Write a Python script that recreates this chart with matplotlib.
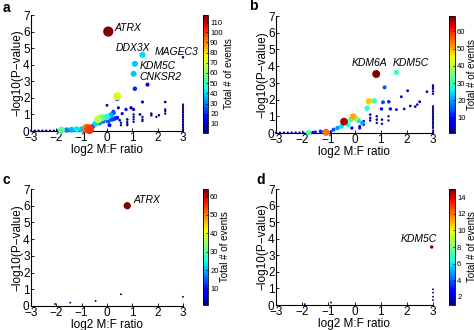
import matplotlib
matplotlib.use("Agg")
import matplotlib.pyplot as plt
import numpy as np

plt.rcParams['font.family'] = ['Liberation Sans', 'DejaVu Sans']

# ---- panel a ----
a_x = [0.05, 1.4, 1.1, 1.05, 3.0,
       1.1, 1.6, 0.4, 0.4, 1.4, 2.3, 0.0,
       0.75, 0.95, 1.05, 0.45, 0.25, 0.6, 1.3, 0.8, 0.5,
       1.75, 1.75, 2.05, 2.3, 2.3, 2.3, 1.95,
       1.05, 1.05, 1.05, 1.05, 0.8, 0.8, 0.8, 0.55, 0.55, 1.4, 1.4, 1.4,
       3.0, 3.0, 3.0, 3.0, 3.0, 3.0, 3.0, 3.0, 3.0, 3.0, 3.0, 3.0, 3.0, 3.0, 3.0, 3.0, 3.0,
       -0.35, -0.2, 0.0, 0.15, 0.25, -0.45, -0.3, -0.15, 0.05, 0.2, 0.3, 0.4, 0.1, -0.55,
       -0.8, -0.7, -1.0, -1.2, -1.4, -1.6, -1.8, -0.6,
       -3.0, -2.85, -2.7, -2.55, -2.4, -2.25, -2.1, -1.95]
a_y = [6.0, 4.6, 4.05, 3.45, 4.45,
       2.55, 2.8, 2.1, 1.95, 1.75, 1.75, 1.55,
       1.3, 1.4, 1.3, 1.4, 1.2, 1.05, 1.0, 0.7, 0.65,
       1.05, 0.95, 0.95, 1.3, 1.2, 1.05, 0.85,
       1.0, 0.85, 0.7, 0.55, 0.55, 0.45, 0.35, 0.5, 0.35, 0.85, 0.7, 0.6,
       1.6, 1.5, 1.4, 1.3, 1.2, 1.1, 1.0, 0.9, 0.8, 0.7, 0.6, 0.5, 0.4, 0.3, 0.2, 0.1, 0.03,
       0.7, 0.8, 0.85, 0.95, 1.1, 0.45, 0.5, 0.6, 0.6, 0.7, 0.75, 0.8, 0.35, 0.3,
       0.16, 0.1, 0.1, 0.1, 0.08, 0.06, 0.05, 0.25,
       0.02, 0.02, 0.02, 0.02, 0.02, 0.02, 0.02, 0.02]
a_n = [117, 40, 38, 38, 4,
       20, 16, 72, 25, 8, 5, 6,
       10, 10, 8, 8, 6, 8, 6, 5, 5,
       4, 4, 4, 3, 3, 3, 3,
       3, 3, 3, 3, 3, 3, 3, 3, 3, 3, 3, 3,
       2, 2, 2, 2, 2, 2, 2, 2, 2, 2, 2, 2, 2, 2, 2, 2, 2,
       68, 55, 45, 35, 25, 40, 30, 28, 25, 22, 20, 15, 15, 25,
       92, 100, 38, 42, 36, 30, 55, 20,
       3, 3, 3, 3, 3, 3, 3, 3]
a_genes = ["ATRX", "DDX3X", "KDM5C", "CNKSR2", "MAGEC3"]

# ---- panel b ----
b_x = [0.83, 1.6, 1.15, 0.55, 0.75, 0.48, 1.09, 1.31, 1.03, 1.37, 1.6,
       1.79, 2.03, 2.49, 2.13, 1.9, 2.32, 2.77, 2.4,
       3.0, 3.0, 3.0, 3.0, 3.0, 3.0, 3.0, 3.0, 3.0, 3.0, 3.0, 3.0, 3.0, 3.0, 3.0, 3.0, 3.0, 3.0, 3.0, 3.0, 3.0,
       0.6, 0.6, 0.6, 0.85, 0.85, 0.85, 1.05, 1.05, 1.3, 1.3, 0.35, 0.35, 0.2,
       -0.4, -0.05, 0.05, -0.15, 0.15, 0.3, -0.25, -0.5, -0.65, -0.8, -1.09, -1.3, -1.5, -1.75, -0.1, 0.2,
       -3.0, -2.85, -2.7, -2.55, -2.4, -2.25, -2.1, -1.95, -1.6, -1.2, -0.9]
b_y = [3.53, 3.63, 2.73, 1.9, 1.93, 1.48, 1.84, 1.87, 1.44, 1.44, 1.4,
       2.17, 2.53, 1.87, 1.62, 1.44, 1.58, 2.47, 1.7,
       2.85, 2.75, 2.65, 2.5, 2.35, 1.6, 1.5, 1.4, 1.3, 1.2, 1.1, 1.0, 0.9, 0.8, 0.7, 0.6, 0.5, 0.4, 0.3, 0.15, 0.03,
       1.1, 0.9, 0.75, 1.0, 0.8, 0.6, 0.8, 0.55, 1.0, 0.75, 0.7, 0.5, 0.4,
       0.68, 0.98, 0.88, 0.8, 0.75, 0.6, 0.5, 0.4, 0.3, 0.2, 0.04, 0.1, 0.05, 0.02, 0.3, 0.3,
       0.02, 0.02, 0.02, 0.02, 0.02, 0.02, 0.02, 0.02, 0.05, 0.05, 0.08]
b_n = [69, 30, 15, 48, 30, 28, 15, 12, 10, 10, 6,
       6, 6, 6, 5, 5, 5, 5, 4,
       3, 3, 3, 3, 3, 2, 2, 2, 2, 2, 2, 2, 2, 2, 2, 2, 2, 2, 2, 2, 2,
       5, 4, 4, 4, 4, 3, 4, 3, 3, 3, 6, 5, 5,
       66, 50, 38, 30, 25, 20, 28, 25, 20, 15, 55, 12, 10, 30, 10, 8,
       3, 3, 3, 3, 3, 3, 3, 3, 5, 8, 6]
b_genes = ["KDM6A", "KDM5C"]

# ---- panel c ----
c_x = [0.8, -2.05, -1.45, -0.45, 0.55, 3.0]
c_y = [6.0, 0.12, 0.2, 0.3, 0.7, 0.55]
c_n = [64, 1, 1, 1, 1, 1]
c_genes = ["ATRX"]

# ---- panel d ----
d_x = [2.95, 3.0, 3.0, 3.0, 3.0, -1.9, -0.9]
d_y = [3.5, 0.95, 0.75, 0.5, 0.3, 0.05, 0.15]
d_n = [15, 1, 1, 1, 1, 1, 1]
d_genes = ["KDM5C"]

x_ticks = [-3, -2, -1, 0, 1, 2, 3]
y_ticks = [0, 1, 2, 3, 4, 5, 6, 7]

W, H = 474, 330
fig = plt.figure(figsize=(W / 100, H / 100), dpi=100)


def px_axes(l, t, r, b):
    return fig.add_axes([l / W, 1 - b / H, (r - l) / W, (b - t) / H])


def panel(letter, letter_xy, box, cbox, xs, ys, ns, genes, vmax, cticks,
          scale, label_pos):
    ax = px_axes(*box)
    order = np.argsort(ns, kind='stable')
    xs_a, ys_a, ns_a = np.array(xs), np.array(ys), np.array(ns)
    sc = ax.scatter(xs_a[order], ys_a[order], s=ns_a[order] * scale + 1.5,
                    c=ns_a[order], cmap='jet', vmin=1, vmax=vmax,
                    edgecolors='none', zorder=3, clip_on=False)
    ax.set_xlim(-3, 3)
    ax.set_ylim(0, 7)
    ax.set_xticks(x_ticks)
    ax.set_yticks(y_ticks)
    ax.set_xticklabels([str(t).replace('-', '\u2212') for t in x_ticks])
    for s in ['top', 'right']:
        ax.spines[s].set_visible(False)
    for s in ['left', 'bottom']:
        ax.spines[s].set_linewidth(0.8)
    ax.tick_params(direction='in', length=2, width=0.6, labelsize=8.5, pad=1)
    ax.set_xlabel('log2 M:F ratio', fontsize=8.5, labelpad=0)
    ax.set_ylabel('\u2212log10(P\u2212value)', fontsize=8.5, labelpad=0)
    for g, (tx, ty) in zip(genes, label_pos):
        ax.text(tx, ty, g, fontsize=7.5, style='italic', ha='left', va='center')
    cax = px_axes(*cbox)
    cb = fig.colorbar(sc, cax=cax)
    cb.set_ticks(cticks)
    cb.outline.set_linewidth(0.6)
    cax.tick_params(labelsize=5.5, length=1.5, width=0.5, direction='in', pad=1.5)
    cb.set_label('Total # of events', fontsize=7, labelpad=1)
    fig.text(letter_xy[0] / W, 1 - letter_xy[1] / H, letter,
             fontsize=10, fontweight='bold', ha='center', va='center')


panel('a', (6, 8), (31, 15, 183, 131), (203, 15, 208, 133), a_x, a_y, a_n, a_genes,
      117, list(range(10, 111, 10)), 0.45,
      [(0.28, 6.2), (0.35, 5.0), (1.3, 3.94), (1.28, 3.28), (1.9, 4.79)])
panel('b', (253, 6), (276, 16, 433, 133), (449, 16, 455, 133), b_x, b_y, b_n, b_genes,
      69, list(range(10, 61, 10)), 0.45,
      [(-0.1, 4.19), (1.47, 4.19)])
panel('c', (6, 180), (31, 189, 183, 306), (203, 189, 208, 305), c_x, c_y, c_n, c_genes,
      64, list(range(10, 61, 10)), 0.4,
      [(1.03, 6.35)])
panel('d', (261, 180), (276, 189, 433, 305), (449, 189, 455, 305), d_x, d_y, d_n, d_genes,
      15, list(range(2, 15, 2)), 0.3,
      [(1.75, 3.97)])

fig.savefig('out.png', dpi=100)
